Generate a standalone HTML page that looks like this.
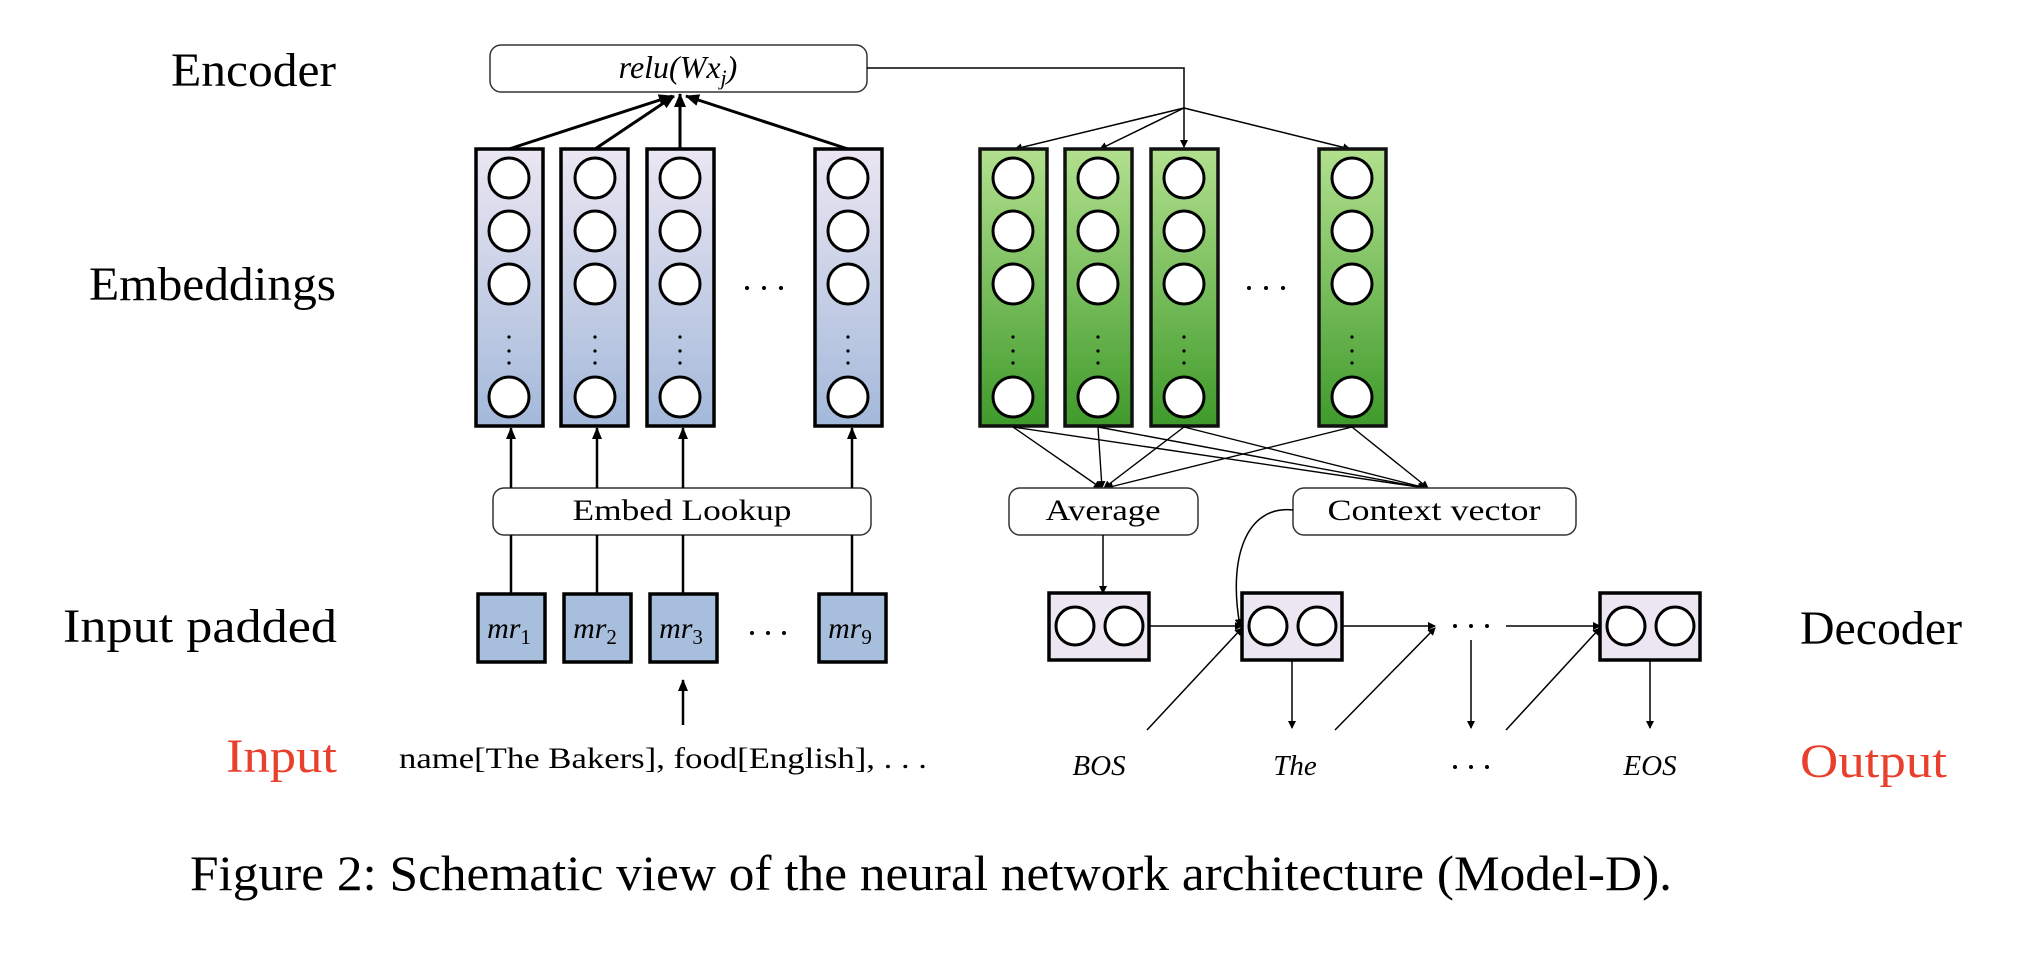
<!DOCTYPE html>
<html><head><meta charset="utf-8"><style>
html,body{margin:0;padding:0;background:#fff;}
svg{display:block;}
text{font-family:"Liberation Serif",serif;}
</style></head><body>
<svg width="2026" height="960" viewBox="0 0 2026 960" xmlns="http://www.w3.org/2000/svg">
<defs>
<linearGradient id="gb" x1="0" y1="0" x2="0" y2="1"><stop offset="0" stop-color="#ebe6f2"/><stop offset="1" stop-color="#a3b9da"/></linearGradient>
<linearGradient id="gg" x1="0" y1="0" x2="0" y2="1"><stop offset="0" stop-color="#b2e08e"/><stop offset="1" stop-color="#3f9a2b"/></linearGradient>
<marker id="ak" markerWidth="8" markerHeight="8" refX="7" refY="4" orient="auto" markerUnits="userSpaceOnUse" viewBox="0 0 8 8"><path d="M0,0 L8,4 L0,8 z" fill="#000"/></marker>
<marker id="aK" markerWidth="14" markerHeight="12" refX="13" refY="6" orient="auto" markerUnits="userSpaceOnUse" viewBox="0 0 14 12"><path d="M0,0 L14,6 L0,12 z" fill="#000"/></marker>
<marker id="as" markerWidth="12" markerHeight="10" refX="11" refY="5" orient="auto" markerUnits="userSpaceOnUse" viewBox="0 0 12 10"><path d="M0,0 L12,5 L0,10 z" fill="#000"/></marker>
</defs>

<g lengthAdjust="spacingAndGlyphs">
<text x="171" y="86" font-size="48" textLength="165" lengthAdjust="spacingAndGlyphs">Encoder</text>
<text x="89" y="300" font-size="48" textLength="247" lengthAdjust="spacingAndGlyphs">Embeddings</text>
<text x="63" y="642" font-size="48" textLength="274" lengthAdjust="spacingAndGlyphs">Input padded</text>
<text x="226" y="772" font-size="48" fill="#e8402d" textLength="111" lengthAdjust="spacingAndGlyphs">Input</text>
<text x="1800" y="644" font-size="48" textLength="162" lengthAdjust="spacingAndGlyphs">Decoder</text>
<text x="1800" y="777" font-size="48" fill="#e8402d" textLength="147" lengthAdjust="spacingAndGlyphs">Output</text>
</g>

<rect x="490" y="45" width="377" height="47" rx="11" fill="#fff" stroke="#333" stroke-width="1.5"/>
<text x="678" y="78" font-size="32" font-style="italic" text-anchor="middle">relu(Wx<tspan font-size="22" dy="7">j</tspan><tspan dy="-7">)</tspan></text>

<g stroke="#000" stroke-width="3" fill="none">
<line x1="509" y1="149" x2="672" y2="96" marker-end="url(#aK)"/>
<line x1="595" y1="149" x2="674" y2="96" marker-end="url(#aK)"/>
<line x1="680" y1="149" x2="680" y2="94" marker-end="url(#aK)"/>
<line x1="848" y1="149" x2="686" y2="96" marker-end="url(#aK)"/>
</g>

<g stroke="#000" stroke-width="3.5" fill="url(#gb)">
<rect x="476" y="149" width="67" height="277"/>
<rect x="561" y="149" width="67" height="277"/>
<rect x="647" y="149" width="67" height="277"/>
<rect x="815" y="149" width="67" height="277"/>
</g>
<g stroke="#000" stroke-width="3" fill="#fff">
<circle cx="509" cy="178" r="20"/><circle cx="509" cy="231" r="20"/><circle cx="509" cy="284" r="20"/><circle cx="509" cy="397" r="20"/>
<circle cx="595" cy="178" r="20"/><circle cx="595" cy="231" r="20"/><circle cx="595" cy="284" r="20"/><circle cx="595" cy="397" r="20"/>
<circle cx="680" cy="178" r="20"/><circle cx="680" cy="231" r="20"/><circle cx="680" cy="284" r="20"/><circle cx="680" cy="397" r="20"/>
<circle cx="848" cy="178" r="20"/><circle cx="848" cy="231" r="20"/><circle cx="848" cy="284" r="20"/><circle cx="848" cy="397" r="20"/>
</g>
<g fill="#000">
<circle cx="509" cy="337" r="1.6"/><circle cx="509" cy="351" r="1.6"/><circle cx="509" cy="363" r="1.6"/>
<circle cx="595" cy="337" r="1.6"/><circle cx="595" cy="351" r="1.6"/><circle cx="595" cy="363" r="1.6"/>
<circle cx="680" cy="337" r="1.6"/><circle cx="680" cy="351" r="1.6"/><circle cx="680" cy="363" r="1.6"/>
<circle cx="848" cy="337" r="1.6"/><circle cx="848" cy="351" r="1.6"/><circle cx="848" cy="363" r="1.6"/>
<circle cx="747" cy="288" r="2"/><circle cx="764" cy="288" r="2"/><circle cx="781" cy="288" r="2"/>
</g>

<rect x="493" y="488" width="378" height="47" rx="11" fill="#fff" stroke="#333" stroke-width="1.5"/>
<text x="682" y="520" font-size="30" text-anchor="middle" textLength="219" lengthAdjust="spacingAndGlyphs">Embed Lookup</text>
<g stroke="#000" stroke-width="2.5">
<line x1="511" y1="488" x2="511" y2="428" marker-end="url(#as)"/>
<line x1="597" y1="488" x2="597" y2="428" marker-end="url(#as)"/>
<line x1="683" y1="488" x2="683" y2="428" marker-end="url(#as)"/>
<line x1="852" y1="488" x2="852" y2="428" marker-end="url(#as)"/>
<line x1="511" y1="594" x2="511" y2="535"/>
<line x1="597" y1="594" x2="597" y2="535"/>
<line x1="683" y1="594" x2="683" y2="535"/>
<line x1="852" y1="594" x2="852" y2="535"/>
<line x1="683" y1="725" x2="683" y2="680" marker-end="url(#as)"/>
</g>

<g stroke="#000" stroke-width="3.5" fill="#a8bedd">
<rect x="478" y="594" width="67" height="68"/>
<rect x="564" y="594" width="67" height="68"/>
<rect x="650" y="594" width="67" height="68"/>
<rect x="819" y="594" width="67" height="68"/>
</g>
<g font-size="30" font-style="italic" text-anchor="middle">
<text x="509" y="638">mr<tspan font-style="normal" font-size="21" dy="6">1</tspan></text>
<text x="595" y="638">mr<tspan font-style="normal" font-size="21" dy="6">2</tspan></text>
<text x="681" y="638">mr<tspan font-style="normal" font-size="21" dy="6">3</tspan></text>
<text x="850" y="638">mr<tspan font-style="normal" font-size="21" dy="6">9</tspan></text>
</g>
<g fill="#000"><circle cx="752" cy="633" r="2"/><circle cx="768" cy="633" r="2"/><circle cx="784" cy="633" r="2"/></g>
<text x="399" y="768" font-size="30" textLength="528" lengthAdjust="spacingAndGlyphs">name[The Bakers], food[English], . . .</text>

<g stroke="#000" stroke-width="1.5" fill="none">
<polyline points="867,68 1184,68 1184,147" marker-end="url(#ak)"/>
<line x1="1184" y1="108" x2="1015" y2="149" marker-end="url(#ak)"/>
<line x1="1184" y1="108" x2="1100" y2="149" marker-end="url(#ak)"/>
<line x1="1184" y1="108" x2="1350" y2="149" marker-end="url(#ak)"/>
</g>

<g stroke="#111" stroke-width="3.5" fill="url(#gg)">
<rect x="980" y="149" width="67" height="277"/>
<rect x="1065" y="149" width="67" height="277"/>
<rect x="1151" y="149" width="67" height="277"/>
<rect x="1319" y="149" width="67" height="277"/>
</g>
<g stroke="#000" stroke-width="3" fill="#fff">
<circle cx="1013" cy="178" r="20"/><circle cx="1013" cy="231" r="20"/><circle cx="1013" cy="284" r="20"/><circle cx="1013" cy="397" r="20"/>
<circle cx="1098" cy="178" r="20"/><circle cx="1098" cy="231" r="20"/><circle cx="1098" cy="284" r="20"/><circle cx="1098" cy="397" r="20"/>
<circle cx="1184" cy="178" r="20"/><circle cx="1184" cy="231" r="20"/><circle cx="1184" cy="284" r="20"/><circle cx="1184" cy="397" r="20"/>
<circle cx="1352" cy="178" r="20"/><circle cx="1352" cy="231" r="20"/><circle cx="1352" cy="284" r="20"/><circle cx="1352" cy="397" r="20"/>
</g>
<g fill="#000">
<circle cx="1013" cy="337" r="1.6"/><circle cx="1013" cy="351" r="1.6"/><circle cx="1013" cy="363" r="1.6"/>
<circle cx="1098" cy="337" r="1.6"/><circle cx="1098" cy="351" r="1.6"/><circle cx="1098" cy="363" r="1.6"/>
<circle cx="1184" cy="337" r="1.6"/><circle cx="1184" cy="351" r="1.6"/><circle cx="1184" cy="363" r="1.6"/>
<circle cx="1352" cy="337" r="1.6"/><circle cx="1352" cy="351" r="1.6"/><circle cx="1352" cy="363" r="1.6"/>
<circle cx="1249" cy="288" r="2"/><circle cx="1266" cy="288" r="2"/><circle cx="1283" cy="288" r="2"/>
</g>

<g stroke="#000" stroke-width="1.4" fill="none">
<line x1="1013" y1="427" x2="1101" y2="488" marker-end="url(#ak)"/>
<line x1="1098" y1="427" x2="1102" y2="488" marker-end="url(#ak)"/>
<line x1="1184" y1="427" x2="1104" y2="488" marker-end="url(#ak)"/>
<line x1="1352" y1="427" x2="1106" y2="488" marker-end="url(#ak)"/>
<line x1="1013" y1="427" x2="1425" y2="488" marker-end="url(#ak)"/>
<line x1="1098" y1="427" x2="1425" y2="488" marker-end="url(#ak)"/>
<line x1="1184" y1="427" x2="1426" y2="488" marker-end="url(#ak)"/>
<line x1="1352" y1="427" x2="1428" y2="488" marker-end="url(#ak)"/>
</g>

<rect x="1009" y="488" width="189" height="47" rx="11" fill="#fff" stroke="#333" stroke-width="1.5"/>
<text x="1103" y="520" font-size="30" text-anchor="middle" textLength="115" lengthAdjust="spacingAndGlyphs">Average</text>
<rect x="1293" y="488" width="283" height="47" rx="11" fill="#fff" stroke="#333" stroke-width="1.5"/>
<text x="1434" y="520" font-size="30" text-anchor="middle" textLength="213" lengthAdjust="spacingAndGlyphs">Context vector</text>

<g stroke="#000" stroke-width="1.5" fill="none">
<line x1="1103" y1="535" x2="1103" y2="593" marker-end="url(#ak)"/>
<path d="M1293,510 C1245,505 1228,560 1240,626" marker-end="url(#ak)"/>
<line x1="1149" y1="626" x2="1242" y2="626" marker-end="url(#ak)"/>
<line x1="1342" y1="626" x2="1435" y2="626" marker-end="url(#ak)"/>
<line x1="1506" y1="626" x2="1600" y2="626" marker-end="url(#ak)"/>
<line x1="1147" y1="730" x2="1242" y2="628" marker-end="url(#ak)"/>
<line x1="1335" y1="730" x2="1435" y2="628" marker-end="url(#ak)"/>
<line x1="1506" y1="730" x2="1600" y2="628" marker-end="url(#ak)"/>
<line x1="1292" y1="660" x2="1292" y2="728" marker-end="url(#ak)"/>
<line x1="1471" y1="640" x2="1471" y2="728" marker-end="url(#ak)"/>
<line x1="1650" y1="660" x2="1650" y2="728" marker-end="url(#ak)"/>
</g>
<g stroke="#000" stroke-width="3.5" fill="#ebe6f2">
<rect x="1049" y="593" width="100" height="67"/>
<rect x="1242" y="593" width="100" height="67"/>
<rect x="1600" y="593" width="100" height="67"/>
</g>
<g stroke="#000" stroke-width="3" fill="#fff">
<circle cx="1075" cy="626" r="19"/><circle cx="1124" cy="626" r="19"/>
<circle cx="1268" cy="626" r="19"/><circle cx="1317" cy="626" r="19"/>
<circle cx="1626" cy="626" r="19"/><circle cx="1675" cy="626" r="19"/>
</g>
<g fill="#000">
<circle cx="1455" cy="626" r="2"/><circle cx="1471" cy="626" r="2"/><circle cx="1487" cy="626" r="2"/>
<circle cx="1455" cy="767" r="2"/><circle cx="1471" cy="767" r="2"/><circle cx="1487" cy="767" r="2"/>
</g>
<g font-size="29" font-style="italic" text-anchor="middle">
<text x="1099" y="775">BOS</text>
<text x="1295" y="775">The</text>
<text x="1650" y="775">EOS</text>
</g>

<text x="190" y="890" font-size="50" textLength="1482" lengthAdjust="spacingAndGlyphs">Figure 2: Schematic view of the neural network architecture (Model-D).</text>
</svg>
</body></html>
